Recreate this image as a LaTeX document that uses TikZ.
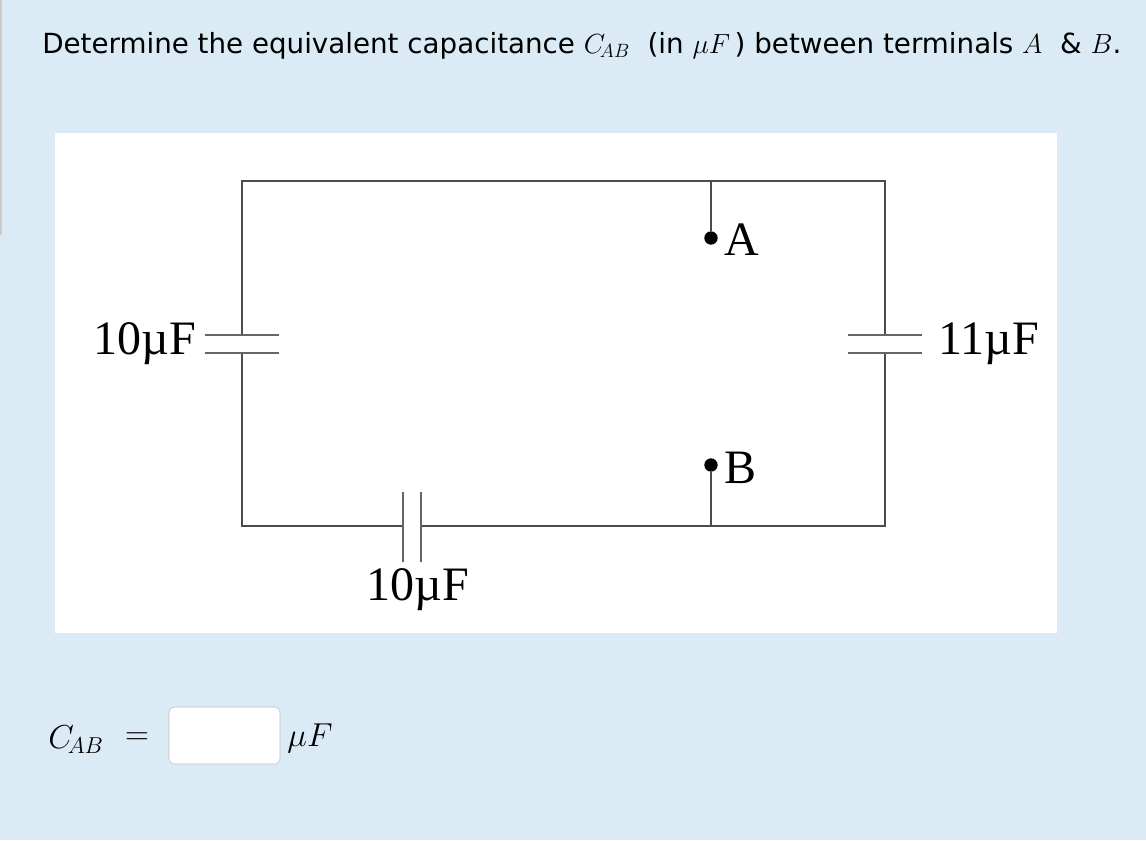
\documentclass[tikz,border=0pt]{standalone}
\usepackage{fontspec}
\newfontfamily\vfont{DejaVu Sans}
\newfontfamily\tfont{Liberation Serif}
\begin{document}
\begin{tikzpicture}[x=0.75pt,y=-0.75pt,
  wire/.style={draw=black!70,line width=0.9pt},
  plate/.style={draw=black!60,line width=1.2pt},
  lbl/.style={font=\tfont\fontsize{36}{36}\selectfont,inner sep=0pt},
  dotn/.style={circle,fill=black,inner sep=0pt,minimum size=10pt}]
\definecolor{bgc}{HTML}{DAEBF5}
\fill[bgc] (0,0) rectangle (1146,840);
\useasboundingbox (0,0) rectangle (1146,840);
\fill[black!20] (0,0) rectangle (2,235);
\node[anchor=west,inner sep=0pt,font=\vfont\fontsize{20.8}{21}\selectfont] (title) at (42,46)
 {Determine the equivalent capacitance $C_{\!AB}$ \ (in $\mu F$\,) between terminals $A$ \ \& $B$.};
\fill[white] (55,133) rectangle (1057,633);
% circuit
\coordinate (tl) at (242,181); \coordinate (tr) at (885,181);
\coordinate (bl) at (242,526); \coordinate (br) at (885,526);
\coordinate (l1) at (242,335); \coordinate (l2) at (242,353);
\coordinate (r1) at (885,335); \coordinate (r2) at (885,353);
\coordinate (b1) at (403,526); \coordinate (b2) at (421,526);
\coordinate (at) at (711,181); \coordinate (bt) at (711,526);
\node[dotn] (A) at (711,238) {};
\node[dotn] (B) at (711,465) {};
\draw[wire] (l1) -- (tl) -- (tr) -- (r1);
\draw[wire] (l2) -- (bl) -- (b1);
\draw[wire] (b2) -- (br) -- (r2);
\draw[wire] (at) -- (A);
\draw[wire] (bt) -- (B);
\draw[plate] (205,335) -- (279,335) (205,353) -- (279,353);
\draw[plate] (848,335) -- (922,335) (848,353) -- (922,353);
\draw[plate] (403,492) -- (403,562) (421,492) -- (421,562);
\node[lbl,anchor=west] (la) at (724,240) {A};
\node[lbl,anchor=west] (lb) at (724,468) {B};
\node[lbl,anchor=east] (c1) at (196,344) {10µF};
\node[lbl,anchor=west] (c2) at (938,344) {11µF};
\node[lbl] (c3) at (418,590) {10µF};
% answer
\node[inner sep=0pt,font=\tfont\fontsize{26}{26}\selectfont] (cab) at (76,740) {$C_{\!AB}$};
\node[inner sep=0pt,font=\fontsize{24}{24}\selectfont] (eq) at (137,739) {$=$};
\draw[black!25,fill=white,rounded corners=4pt] (169,707) rectangle (280,764);
\node[inner sep=0pt,font=\fontsize{24}{24}\selectfont] (uf) at (310,738) {$\mu F$};
\end{tikzpicture}
\end{document}
